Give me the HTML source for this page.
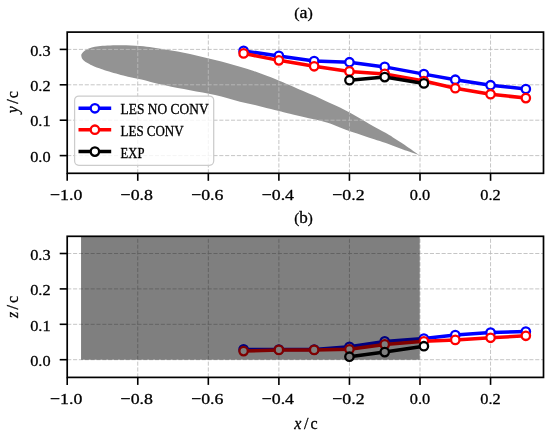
<!DOCTYPE html><html><head><meta charset="utf-8"><style>html,body{margin:0;padding:0;background:#fff;width:550px;height:438px;overflow:hidden}svg{display:block}text{font-family:'Liberation Serif', 'DejaVu Serif', serif;fill:#000;stroke:#000;stroke-width:0.3px}</style></head><body>
<svg width="550" height="438" viewBox="0 0 550 438">
<defs>
<clipPath id="ca"><rect x="67.2" y="32.1" width="476.30" height="141.20"/></clipPath>
<clipPath id="cb"><rect x="67.2" y="236.3" width="476.30" height="141.10"/></clipPath>
</defs>
<rect width="550" height="438" fill="#fff"/>
<path d="M419.50,155.30 C417.75,154.08 412.08,150.13 409.00,148.00 C405.92,145.87 403.67,144.27 401.00,142.50 C398.33,140.73 395.67,139.05 393.00,137.40 C390.33,135.75 388.13,134.37 385.00,132.60 C381.87,130.83 377.90,128.90 374.20,126.80 C370.50,124.70 366.60,122.23 362.80,120.00 C359.00,117.77 355.20,115.48 351.40,113.40 C347.60,111.32 343.95,109.40 340.00,107.50 C336.05,105.60 331.85,103.90 327.70,102.00 C323.55,100.10 319.28,97.97 315.10,96.10 C310.92,94.23 306.78,92.62 302.60,90.80 C298.42,88.98 293.58,86.77 290.00,85.20 C286.42,83.63 284.87,82.93 281.10,81.40 C277.33,79.87 271.97,77.73 267.40,76.00 C262.83,74.27 258.27,72.53 253.70,71.00 C249.13,69.47 244.33,68.10 240.00,66.80 C235.67,65.50 231.85,64.32 227.70,63.20 C223.55,62.08 219.28,61.15 215.10,60.10 C210.92,59.05 206.78,57.92 202.60,56.90 C198.42,55.88 194.15,54.88 190.00,54.00 C185.85,53.12 181.85,52.37 177.70,51.60 C173.55,50.83 169.28,50.08 165.10,49.40 C160.92,48.72 156.78,48.05 152.60,47.50 C148.42,46.95 145.10,46.47 140.00,46.10 C134.90,45.73 127.42,45.38 122.00,45.30 C116.58,45.22 111.42,45.43 107.50,45.60 C103.58,45.77 101.13,46.00 98.50,46.30 C95.87,46.60 93.70,46.85 91.70,47.40 C89.70,47.95 87.92,48.83 86.50,49.60 C85.08,50.37 84.03,51.22 83.20,52.00 C82.37,52.78 81.82,53.70 81.50,54.30 C81.18,54.90 81.23,54.95 81.30,55.60 C81.37,56.25 81.45,57.35 81.90,58.20 C82.35,59.05 83.07,59.90 84.00,60.70 C84.93,61.50 86.22,62.23 87.50,63.00 C88.78,63.77 89.87,64.45 91.70,65.30 C93.53,66.15 96.22,67.25 98.50,68.10 C100.78,68.95 101.27,69.18 105.40,70.40 C109.53,71.62 117.28,73.87 123.30,75.40 C129.32,76.93 136.62,78.43 141.50,79.60 C146.38,80.77 148.67,81.45 152.60,82.40 C156.53,83.35 160.92,84.37 165.10,85.30 C169.28,86.23 173.55,87.18 177.70,88.00 C181.85,88.82 185.85,89.43 190.00,90.20 C194.15,90.97 198.42,91.78 202.60,92.60 C206.78,93.42 210.92,94.17 215.10,95.10 C219.28,96.03 223.55,97.10 227.70,98.20 C231.85,99.30 235.67,100.60 240.00,101.70 C244.33,102.80 249.13,103.72 253.70,104.80 C258.27,105.88 262.83,107.08 267.40,108.20 C271.97,109.32 277.33,110.57 281.10,111.50 C284.87,112.43 286.42,112.93 290.00,113.80 C293.58,114.67 298.42,115.73 302.60,116.70 C306.78,117.67 310.92,118.60 315.10,119.60 C319.28,120.60 323.55,121.38 327.70,122.70 C331.85,124.02 336.05,126.00 340.00,127.50 C343.95,129.00 347.60,130.38 351.40,131.70 C355.20,133.02 359.00,134.13 362.80,135.40 C366.60,136.67 370.50,138.07 374.20,139.30 C377.90,140.53 381.87,141.72 385.00,142.80 C388.13,143.88 390.33,144.82 393.00,145.80 C395.67,146.78 398.33,147.73 401.00,148.70 C403.67,149.67 405.92,150.50 409.00,151.60 C412.08,152.70 417.75,154.68 419.50,155.30 Z" fill="#939393" stroke="none" clip-path="url(#ca)"/>
<g clip-path="url(#ca)" stroke="#bababa" stroke-width="0.85" stroke-dasharray="4.1 1.75" fill="none"><line x1="67.20" y1="173.30" x2="67.20" y2="32.10"/><line x1="137.76" y1="173.30" x2="137.76" y2="32.10"/><line x1="208.32" y1="173.30" x2="208.32" y2="32.10"/><line x1="278.88" y1="173.30" x2="278.88" y2="32.10"/><line x1="349.44" y1="173.30" x2="349.44" y2="32.10"/><line x1="420.00" y1="173.30" x2="420.00" y2="32.10"/><line x1="490.56" y1="173.30" x2="490.56" y2="32.10"/><line x1="67.20" y1="155.60" x2="543.50" y2="155.60"/><line x1="67.20" y1="120.20" x2="543.50" y2="120.20"/><line x1="67.20" y1="84.80" x2="543.50" y2="84.80"/><line x1="67.20" y1="49.40" x2="543.50" y2="49.40"/></g>
<g clip-path="url(#ca)">
<path d="M243.60,50.90 L278.88,55.90 L314.16,61.10 L349.44,62.20 L384.72,66.90 L423.90,74.10 L455.28,79.70 L490.56,85.20 L525.84,89.00" fill="none" stroke="#0000ff" stroke-width="3.5" stroke-linejoin="round" stroke-linecap="butt"/><circle cx="243.60" cy="50.90" r="4.2" fill="#fff" stroke="#0000ff" stroke-width="2.3"/><circle cx="278.88" cy="55.90" r="4.2" fill="#fff" stroke="#0000ff" stroke-width="2.3"/><circle cx="314.16" cy="61.10" r="4.2" fill="#fff" stroke="#0000ff" stroke-width="2.3"/><circle cx="349.44" cy="62.20" r="4.2" fill="#fff" stroke="#0000ff" stroke-width="2.3"/><circle cx="384.72" cy="66.90" r="4.2" fill="#fff" stroke="#0000ff" stroke-width="2.3"/><circle cx="423.90" cy="74.10" r="4.2" fill="#fff" stroke="#0000ff" stroke-width="2.3"/><circle cx="455.28" cy="79.70" r="4.2" fill="#fff" stroke="#0000ff" stroke-width="2.3"/><circle cx="490.56" cy="85.20" r="4.2" fill="#fff" stroke="#0000ff" stroke-width="2.3"/><circle cx="525.84" cy="89.00" r="4.2" fill="#fff" stroke="#0000ff" stroke-width="2.3"/>
<path d="M243.60,53.40 L278.88,60.35 L314.16,66.30 L349.44,71.40 L384.72,73.90 L423.90,81.00 L455.28,88.20 L490.56,94.20 L525.84,98.10" fill="none" stroke="#ff0000" stroke-width="3.5" stroke-linejoin="round" stroke-linecap="butt"/><circle cx="243.60" cy="53.40" r="4.2" fill="#fff" stroke="#ff0000" stroke-width="2.3"/><circle cx="278.88" cy="60.35" r="4.2" fill="#fff" stroke="#ff0000" stroke-width="2.3"/><circle cx="314.16" cy="66.30" r="4.2" fill="#fff" stroke="#ff0000" stroke-width="2.3"/><circle cx="349.44" cy="71.40" r="4.2" fill="#fff" stroke="#ff0000" stroke-width="2.3"/><circle cx="384.72" cy="73.90" r="4.2" fill="#fff" stroke="#ff0000" stroke-width="2.3"/><circle cx="423.90" cy="81.00" r="4.2" fill="#fff" stroke="#ff0000" stroke-width="2.3"/><circle cx="455.28" cy="88.20" r="4.2" fill="#fff" stroke="#ff0000" stroke-width="2.3"/><circle cx="490.56" cy="94.20" r="4.2" fill="#fff" stroke="#ff0000" stroke-width="2.3"/><circle cx="525.84" cy="98.10" r="4.2" fill="#fff" stroke="#ff0000" stroke-width="2.3"/>
<path d="M349.44,80.20 L384.72,77.10 L423.90,83.40" fill="none" stroke="#000000" stroke-width="3.5" stroke-linejoin="round" stroke-linecap="butt"/><circle cx="349.44" cy="80.20" r="4.2" fill="#fff" stroke="#000000" stroke-width="2.3"/><circle cx="384.72" cy="77.10" r="4.2" fill="#fff" stroke="#000000" stroke-width="2.3"/><circle cx="423.90" cy="83.40" r="4.2" fill="#fff" stroke="#000000" stroke-width="2.3"/>
</g>
<rect x="74.6" y="96.0" width="139.1" height="69.3" rx="4.2" ry="4.2" fill="#fff" fill-opacity="0.8" stroke="#cccccc" stroke-width="1.25"/>
<line x1="78.5" y1="108.3" x2="111.2" y2="108.3" stroke="#0000ff" stroke-width="3.5"/>
<circle cx="94.9" cy="108.3" r="4.2" fill="#fff" stroke="#0000ff" stroke-width="2.3"/>
<text x="120.60" y="114.10" font-size="13.6" text-anchor="start" textLength="88.0" lengthAdjust="spacingAndGlyphs">LES NO CONV</text>
<line x1="78.5" y1="129.7" x2="111.2" y2="129.7" stroke="#ff0000" stroke-width="3.5"/>
<circle cx="94.9" cy="129.7" r="4.2" fill="#fff" stroke="#ff0000" stroke-width="2.3"/>
<text x="120.60" y="136.40" font-size="13.6" text-anchor="start" textLength="63.0" lengthAdjust="spacingAndGlyphs">LES CONV</text>
<line x1="78.5" y1="151.6" x2="111.2" y2="151.6" stroke="#000000" stroke-width="3.5"/>
<circle cx="94.9" cy="151.6" r="4.2" fill="#fff" stroke="#000000" stroke-width="2.3"/>
<text x="120.60" y="158.10" font-size="13.6" text-anchor="start" textLength="23.8" lengthAdjust="spacingAndGlyphs">EXP</text>
<g clip-path="url(#cb)" stroke="#bababa" stroke-width="0.85" stroke-dasharray="4.1 1.75" fill="none"><line x1="67.20" y1="377.40" x2="67.20" y2="236.30"/><line x1="137.76" y1="377.40" x2="137.76" y2="236.30"/><line x1="208.32" y1="377.40" x2="208.32" y2="236.30"/><line x1="278.88" y1="377.40" x2="278.88" y2="236.30"/><line x1="349.44" y1="377.40" x2="349.44" y2="236.30"/><line x1="420.00" y1="377.40" x2="420.00" y2="236.30"/><line x1="490.56" y1="377.40" x2="490.56" y2="236.30"/><line x1="67.20" y1="359.70" x2="543.50" y2="359.70"/><line x1="67.20" y1="324.30" x2="543.50" y2="324.30"/><line x1="67.20" y1="288.90" x2="543.50" y2="288.90"/><line x1="67.20" y1="253.50" x2="543.50" y2="253.50"/></g>
<g clip-path="url(#cb)">
<path d="M243.60,349.40 L278.88,349.50 L314.16,349.60 L349.44,346.80 L384.72,341.40 L423.90,338.60 L455.28,335.10 L490.56,332.60 L525.84,331.50" fill="none" stroke="#0000ff" stroke-width="3.5" stroke-linejoin="round" stroke-linecap="butt"/><circle cx="243.60" cy="349.40" r="4.2" fill="#fff" stroke="#0000ff" stroke-width="2.3"/><circle cx="278.88" cy="349.50" r="4.2" fill="#fff" stroke="#0000ff" stroke-width="2.3"/><circle cx="314.16" cy="349.60" r="4.2" fill="#fff" stroke="#0000ff" stroke-width="2.3"/><circle cx="349.44" cy="346.80" r="4.2" fill="#fff" stroke="#0000ff" stroke-width="2.3"/><circle cx="384.72" cy="341.40" r="4.2" fill="#fff" stroke="#0000ff" stroke-width="2.3"/><circle cx="423.90" cy="338.60" r="4.2" fill="#fff" stroke="#0000ff" stroke-width="2.3"/><circle cx="455.28" cy="335.10" r="4.2" fill="#fff" stroke="#0000ff" stroke-width="2.3"/><circle cx="490.56" cy="332.60" r="4.2" fill="#fff" stroke="#0000ff" stroke-width="2.3"/><circle cx="525.84" cy="331.50" r="4.2" fill="#fff" stroke="#0000ff" stroke-width="2.3"/>
<path d="M243.60,351.10 L278.88,349.90 L314.16,349.90 L349.44,349.30 L384.72,344.40 L423.90,341.30 L455.28,339.90 L490.56,337.80 L525.84,335.80" fill="none" stroke="#ff0000" stroke-width="3.5" stroke-linejoin="round" stroke-linecap="butt"/><circle cx="243.60" cy="351.10" r="4.2" fill="#fff" stroke="#ff0000" stroke-width="2.3"/><circle cx="278.88" cy="349.90" r="4.2" fill="#fff" stroke="#ff0000" stroke-width="2.3"/><circle cx="314.16" cy="349.90" r="4.2" fill="#fff" stroke="#ff0000" stroke-width="2.3"/><circle cx="349.44" cy="349.30" r="4.2" fill="#fff" stroke="#ff0000" stroke-width="2.3"/><circle cx="384.72" cy="344.40" r="4.2" fill="#fff" stroke="#ff0000" stroke-width="2.3"/><circle cx="423.90" cy="341.30" r="4.2" fill="#fff" stroke="#ff0000" stroke-width="2.3"/><circle cx="455.28" cy="339.90" r="4.2" fill="#fff" stroke="#ff0000" stroke-width="2.3"/><circle cx="490.56" cy="337.80" r="4.2" fill="#fff" stroke="#ff0000" stroke-width="2.3"/><circle cx="525.84" cy="335.80" r="4.2" fill="#fff" stroke="#ff0000" stroke-width="2.3"/>
<path d="M349.44,356.70 L384.72,352.10 L423.90,346.20" fill="none" stroke="#000000" stroke-width="3.5" stroke-linejoin="round" stroke-linecap="butt"/><circle cx="349.44" cy="356.70" r="4.2" fill="#fff" stroke="#000000" stroke-width="2.3"/><circle cx="384.72" cy="352.10" r="4.2" fill="#fff" stroke="#000000" stroke-width="2.3"/><circle cx="423.90" cy="346.20" r="4.2" fill="#fff" stroke="#000000" stroke-width="2.3"/>
<rect x="81.05" y="234.3" width="338.65" height="125.40" fill="#000" fill-opacity="0.5"/>
</g>
<rect x="67.2" y="32.1" width="476.30" height="141.20" fill="none" stroke="#000" stroke-width="1.7"/>
<g stroke="#000" stroke-width="1.6"><line x1="67.20" y1="173.30" x2="67.20" y2="180.80"/><line x1="137.76" y1="173.30" x2="137.76" y2="180.80"/><line x1="208.32" y1="173.30" x2="208.32" y2="180.80"/><line x1="278.88" y1="173.30" x2="278.88" y2="180.80"/><line x1="349.44" y1="173.30" x2="349.44" y2="180.80"/><line x1="420.00" y1="173.30" x2="420.00" y2="180.80"/><line x1="490.56" y1="173.30" x2="490.56" y2="180.80"/><line x1="59.70" y1="155.60" x2="67.20" y2="155.60"/><line x1="59.70" y1="120.20" x2="67.20" y2="120.20"/><line x1="59.70" y1="84.80" x2="67.20" y2="84.80"/><line x1="59.70" y1="49.40" x2="67.20" y2="49.40"/></g>
<text x="66.20" y="200.20" font-size="15.5" text-anchor="middle" textLength="32.3" lengthAdjust="spacingAndGlyphs">−1.0</text>
<text x="136.76" y="200.20" font-size="15.5" text-anchor="middle" textLength="32.3" lengthAdjust="spacingAndGlyphs">−0.8</text>
<text x="207.32" y="200.20" font-size="15.5" text-anchor="middle" textLength="32.3" lengthAdjust="spacingAndGlyphs">−0.6</text>
<text x="277.88" y="200.20" font-size="15.5" text-anchor="middle" textLength="32.3" lengthAdjust="spacingAndGlyphs">−0.4</text>
<text x="348.44" y="200.20" font-size="15.5" text-anchor="middle" textLength="32.3" lengthAdjust="spacingAndGlyphs">−0.2</text>
<text x="420.00" y="200.20" font-size="15.5" text-anchor="middle" textLength="20.4" lengthAdjust="spacingAndGlyphs">0.0</text>
<text x="490.56" y="200.20" font-size="15.5" text-anchor="middle" textLength="20.4" lengthAdjust="spacingAndGlyphs">0.2</text>
<text x="50.60" y="161.80" font-size="15.5" text-anchor="end" textLength="20.4" lengthAdjust="spacingAndGlyphs">0.0</text>
<text x="50.60" y="126.40" font-size="15.5" text-anchor="end" textLength="20.4" lengthAdjust="spacingAndGlyphs">0.1</text>
<text x="50.60" y="91.00" font-size="15.5" text-anchor="end" textLength="20.4" lengthAdjust="spacingAndGlyphs">0.2</text>
<text x="50.60" y="55.60" font-size="15.5" text-anchor="end" textLength="20.4" lengthAdjust="spacingAndGlyphs">0.3</text>
<text x="303.6" y="18.00" font-size="14.4" text-anchor="middle" textLength="18.6" lengthAdjust="spacingAndGlyphs">(<tspan font-size="16.2">a</tspan>)</text>
<text transform="translate(17.8,109.80) rotate(-90)" x="0" y="0" font-size="16" text-anchor="middle" font-style="italic">y</text>
<text transform="translate(17.8,101.60) rotate(-90)" x="0" y="0" font-size="16" text-anchor="middle">/</text>
<text transform="translate(17.8,94.60) rotate(-90)" x="0" y="0" font-size="16" text-anchor="middle">c</text>
<rect x="67.2" y="236.3" width="476.30" height="141.10" fill="none" stroke="#000" stroke-width="1.7"/>
<g stroke="#000" stroke-width="1.6"><line x1="67.20" y1="377.40" x2="67.20" y2="384.90"/><line x1="137.76" y1="377.40" x2="137.76" y2="384.90"/><line x1="208.32" y1="377.40" x2="208.32" y2="384.90"/><line x1="278.88" y1="377.40" x2="278.88" y2="384.90"/><line x1="349.44" y1="377.40" x2="349.44" y2="384.90"/><line x1="420.00" y1="377.40" x2="420.00" y2="384.90"/><line x1="490.56" y1="377.40" x2="490.56" y2="384.90"/><line x1="59.70" y1="359.70" x2="67.20" y2="359.70"/><line x1="59.70" y1="324.30" x2="67.20" y2="324.30"/><line x1="59.70" y1="288.90" x2="67.20" y2="288.90"/><line x1="59.70" y1="253.50" x2="67.20" y2="253.50"/></g>
<text x="66.20" y="404.30" font-size="15.5" text-anchor="middle" textLength="32.3" lengthAdjust="spacingAndGlyphs">−1.0</text>
<text x="136.76" y="404.30" font-size="15.5" text-anchor="middle" textLength="32.3" lengthAdjust="spacingAndGlyphs">−0.8</text>
<text x="207.32" y="404.30" font-size="15.5" text-anchor="middle" textLength="32.3" lengthAdjust="spacingAndGlyphs">−0.6</text>
<text x="277.88" y="404.30" font-size="15.5" text-anchor="middle" textLength="32.3" lengthAdjust="spacingAndGlyphs">−0.4</text>
<text x="348.44" y="404.30" font-size="15.5" text-anchor="middle" textLength="32.3" lengthAdjust="spacingAndGlyphs">−0.2</text>
<text x="420.00" y="404.30" font-size="15.5" text-anchor="middle" textLength="20.4" lengthAdjust="spacingAndGlyphs">0.0</text>
<text x="490.56" y="404.30" font-size="15.5" text-anchor="middle" textLength="20.4" lengthAdjust="spacingAndGlyphs">0.2</text>
<text x="50.60" y="365.90" font-size="15.5" text-anchor="end" textLength="20.4" lengthAdjust="spacingAndGlyphs">0.0</text>
<text x="50.60" y="330.50" font-size="15.5" text-anchor="end" textLength="20.4" lengthAdjust="spacingAndGlyphs">0.1</text>
<text x="50.60" y="295.10" font-size="15.5" text-anchor="end" textLength="20.4" lengthAdjust="spacingAndGlyphs">0.2</text>
<text x="50.60" y="259.70" font-size="15.5" text-anchor="end" textLength="20.4" lengthAdjust="spacingAndGlyphs">0.3</text>
<text x="303.6" y="222.50" font-size="14.4" text-anchor="middle" textLength="18.6" lengthAdjust="spacingAndGlyphs">(<tspan font-size="16.2">b</tspan>)</text>
<text transform="translate(17.8,314.80) rotate(-90)" x="0" y="0" font-size="16" text-anchor="middle" font-style="italic">z</text>
<text transform="translate(17.8,307.20) rotate(-90)" x="0" y="0" font-size="16" text-anchor="middle">/</text>
<text transform="translate(17.8,299.40) rotate(-90)" x="0" y="0" font-size="16" text-anchor="middle">c</text>
<text x="297.85" y="428.7" font-size="16" text-anchor="middle" font-style="italic">x</text>
<text x="306.15" y="428.7" font-size="16" text-anchor="middle">/</text>
<text x="314.00" y="428.7" font-size="16" text-anchor="middle">c</text>
</svg></body></html>
